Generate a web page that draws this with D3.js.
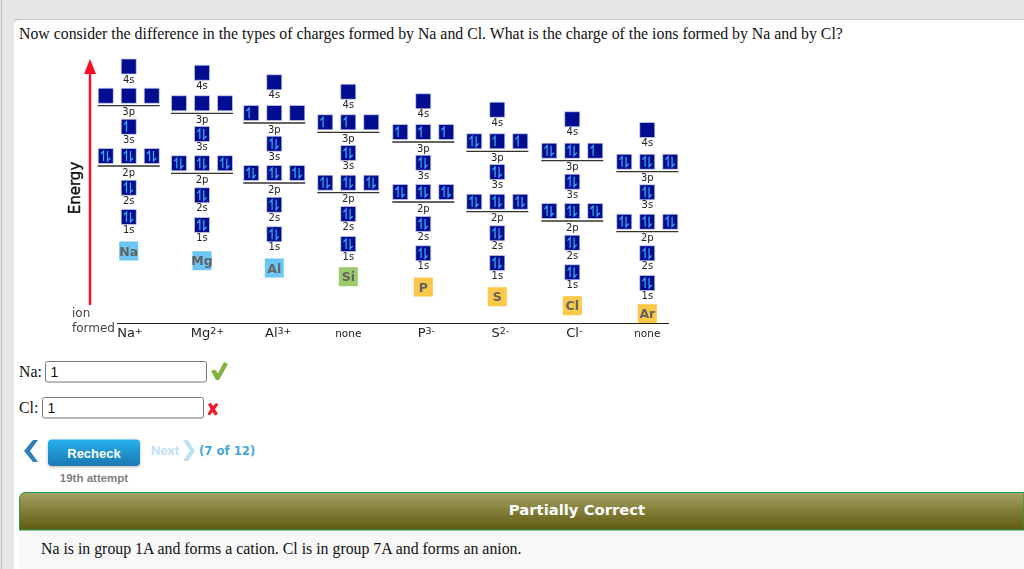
<!DOCTYPE html>
<html>
<head>
<meta charset="utf-8">
<script src="https://cdn.jsdelivr.net/npm/d3@7"></script>
<style>
  html, body { margin: 0; padding: 0; background: #fff; overflow: hidden; }
  svg { display: block; }
  .serif { font-family: "Liberation Serif", serif; fill: #111; }
  .sans { font-family: "Liberation Sans", sans-serif; }
  .wide { font-family: "DejaVu Sans", sans-serif; }
  .dia { font-family: "DejaVu Sans", sans-serif; fill: #222; }
</style>
</head>
<body>
<svg id="page" width="1024" height="569"></svg>
<script>
var elements = ["Na", "Mg", "Al", "Si", "P", "S", "Cl", "Ar"];
var ionBase = ["Na", "Mg", "Al", "none", "P", "S", "Cl", "none"];
var ionCharge = ["+", "2+", "3+", "", "3-", "2-", "-", ""];
var groupColors = ["#6cc6f6", "#6cc6f6", "#6cc6f6", "#9ccb6c", "#fcc848", "#fcc848", "#fcc848", "#fcc848"];

// energies, arbitrary units above the baseline
var energy1s = [108, 100, 90.7, 81, 71.7, 62, 52.7, 42];
var energy2s = [137.3, 129.7, 120.3, 111, 101, 91.7, 82.3, 71.7];
var energy2p = [169, 161.7, 152, 142.3, 133, 123.3, 114, 103.3];
var energy3s = [198.3, 191, 181.3, 172, 162.3, 153, 143.3, 132.7];
var energy3p = [229.3, 221.7, 212, 202.7, 193, 183.7, 174.3, 163.3];
var energy4s = [258.5, 252.3, 242.7, 233.3, 223.7, 215.3, 205.7, 195];
var energySymbol = [74, 64.3, 57, 48.3, 38, 28.3, 19.3, 11.3];

// electrons in each subshell
var electrons1s = [2, 2, 2, 2, 2, 2, 2, 2];
var electrons2s = [2, 2, 2, 2, 2, 2, 2, 2];
var electrons2p = [6, 6, 6, 6, 6, 6, 6, 6];
var electrons3s = [1, 2, 2, 2, 2, 2, 2, 2];
var electrons3p = [0, 0, 1, 2, 3, 4, 5, 6];
var electrons4s = [0, 0, 0, 0, 0, 0, 0, 0];

var subshells = [
    { name: "1s", energy: energy1s, electrons: electrons1s, boxes: 1 },
    { name: "2s", energy: energy2s, electrons: electrons2s, boxes: 1 },
    { name: "2p", energy: energy2p, electrons: electrons2p, boxes: 3 },
    { name: "3s", energy: energy3s, electrons: electrons3s, boxes: 1 },
    { name: "3p", energy: energy3p, electrons: electrons3p, boxes: 3 },
    { name: "4s", energy: energy4s, electrons: electrons4s, boxes: 1 }
];

var svg = d3.select("#page");
var defs = svg.append("defs");

function gradient(id, stops) {
    var g = defs.append("linearGradient").attr("id", id)
        .attr("x1", 0).attr("x2", 0).attr("y1", 0).attr("y2", 1);
    stops.forEach(function(c, i) {
        g.append("stop").attr("offset", i / (stops.length - 1)).attr("stop-color", c);
    });
}
gradient("banner", ["#a5a263", "#5e590e"]);
gradient("button", ["#27b0ee", "#1b78b0"]);
defs.append("filter").attr("id", "soft")
    .append("feGaussianBlur").attr("stdDeviation", 0.4);
defs.append("filter").attr("id", "shadow")
    .attr("x", "-10%").attr("y", "-20%").attr("width", "120%").attr("height", "150%")
    .append("feDropShadow").attr("dx", 0).attr("dy", 1).attr("stdDeviation", 1.5)
    .attr("flood-color", "#000").attr("flood-opacity", 0.3);

// page frame
svg.append("rect").attr("width", 1024).attr("height", 19).attr("fill", "#e5e6e7");
svg.append("rect").attr("width", 14).attr("height", 569).attr("fill", "#e5e6e7");
svg.append("rect").attr("x", 1).attr("width", 1).attr("height", 569).attr("fill", "#bdbdbd");
svg.append("rect").attr("x", 14).attr("y", 19).attr("width", 1010).attr("height", 1).attr("fill", "#c8c8c8");
svg.append("path").attr("d", "M14 26Q14 20 20 20L14 20Z").attr("fill", "#e5e6e7");

svg.append("text").attr("class", "serif").attr("x", 19).attr("y", 38.5)
    .attr("font-size", 15.83)
    .text("Now consider the difference in the types of charges formed by Na and Cl. What is the charge of the ions formed by Na and by Cl?");

// diagram
var x = d3.scaleOrdinal(elements, [128.7, 202, 274.3, 348.3, 423.3, 497.3, 572.3, 647.3]);
var ionShift = d3.scaleOrdinal(elements, [1.3, 5.5, 4, 0, 3, 3, 2, 0]);
var y = d3.scaleLinear().domain([0, 265]).range([325, 60]);
var orbitalStep = 23, boxSize = 15;

var dia = svg.append("g").attr("filter", "url(#soft)");

var columns = dia.selectAll("g.column").data(elements).enter().append("g")
    .attr("class", "column")
    .attr("transform", function(d) { return "translate(" + x(d) + ",0)"; });

columns.each(function(el, col) {
    var g = d3.select(this);
    subshells.forEach(function(sub) {
        var cy = y(sub.energy[col]), n = sub.electrons[col];
        d3.range(sub.boxes).forEach(function(i) {
            var cx = (i - (sub.boxes - 1) / 2) * orbitalStep;
            g.append("rect")
                .attr("x", cx - boxSize / 2).attr("y", cy - boxSize / 2)
                .attr("width", boxSize).attr("height", boxSize)
                .attr("fill", "#020f90").attr("stroke", "#c6cbee").attr("stroke-width", 0.7);
            if (n > i) {
                g.append("path").attr("fill", "none").attr("stroke", "#3eaef0").attr("stroke-width", 1.2)
                    .attr("d", "M" + (cx - 2.2) + " " + (cy + 5) + "V" + (cy - 5) + "L" + (cx - 4.8) + " " + (cy - 2));
            }
            if (n > i + sub.boxes) {
                g.append("path").attr("fill", "none").attr("stroke", "#3eaef0").attr("stroke-width", 1.2)
                    .attr("d", "M" + (cx + 1.8) + " " + (cy - 5) + "V" + (cy + 5) + "L" + (cx + 4.4) + " " + (cy + 2));
            }
        });
        if (sub.boxes === 3) {
            g.append("line")
                .attr("x1", -orbitalStep - boxSize / 2 - 0.5).attr("x2", orbitalStep + boxSize / 2 + 0.5)
                .attr("y1", cy + 10).attr("y2", cy + 10)
                .attr("stroke", "#333").attr("stroke-width", 1.3);
        }
        g.append("text").attr("class", "dia")
            .attr("text-anchor", "middle").attr("font-size", 10)
            .attr("y", cy + (sub.boxes === 3 ? 19.5 : 16))
            .text(sub.name);
    });

    var sy = y(energySymbol[col]);
    g.append("rect").attr("x", -9.5).attr("y", sy - 9.5)
        .attr("width", 19).attr("height", 19).attr("fill", groupColors[col]);
    g.append("text").attr("class", "dia")
        .attr("text-anchor", "middle").attr("y", sy + 4.5)
        .attr("font-size", 12.5).attr("font-weight", "bold")
        .style("fill", "#636363")
        .text(el);

    var ion = g.append("text").attr("class", "dia")
        .attr("text-anchor", "middle").attr("y", 337)
        .attr("font-size", ionBase[col] === "none" ? 10.5 : 13)
        .attr("dx", ionShift(el));
    ion.append("tspan").text(ionBase[col]);
    if (ionCharge[col]) {
        ion.append("tspan").attr("font-size", 9.5).attr("dy", -3).text(ionCharge[col]);
    }
});

dia.append("line").attr("x1", 117).attr("x2", 669).attr("y1", 323.5).attr("y2", 323.5)
    .attr("stroke", "#222").attr("stroke-width", 1.2);
dia.append("line").attr("x1", 90).attr("x2", 90).attr("y1", 305).attr("y2", 70)
    .attr("stroke", "#ff1020").attr("stroke-width", 2.4);
dia.append("path").attr("d", "M90 59L96 74H84Z").attr("fill", "#ff1020");
dia.append("text").attr("class", "dia").attr("x", 72).attr("y", 317).attr("font-size", 12).style("fill", "#444").text("ion");
dia.append("text").attr("class", "dia").attr("x", 72).attr("y", 332).attr("font-size", 12).style("fill", "#444").text("formed");
dia.append("text").attr("class", "dia")
    .attr("transform", "translate(79.5,188) rotate(-90)")
    .attr("text-anchor", "middle").attr("font-size", 15).style("fill", "#111")
    .attr("stroke", "#111").attr("stroke-width", 0.4)
    .text("Energy");

// answer fields
var fieldLabels = ["Na:", "Cl:"];
var fieldValues = ["1", "1"];
var fieldX = [45.5, 42.5], fieldY = [361.5, 397.5];
fieldLabels.forEach(function(label, i) {
    svg.append("text").attr("class", "serif").attr("x", 19).attr("y", fieldY[i] + 15.5)
        .attr("font-size", 15.83).text(label);
    svg.append("rect").attr("x", fieldX[i]).attr("y", fieldY[i])
        .attr("width", 161).attr("height", 20.5).attr("rx", 2)
        .attr("fill", "#fff").attr("stroke", "#777").attr("stroke-width", 1);
    svg.append("text").attr("class", "sans").attr("x", fieldX[i] + 5).attr("y", fieldY[i] + 15.5)
        .attr("font-size", 14).attr("fill", "#111").text(fieldValues[i]);
});
svg.append("path").attr("d", "M211 371L215 369.5L218 373.5L224 362L228 364L219 380H216Z").attr("fill", "#82b33c");
svg.append("path").attr("d", "M208 404L211 403L213 406L216 403L218.5 404.5L215 409L218 414L215 415.5L212.5 412L209.5 415.5L207.5 414L210.5 409Z").attr("fill", "#f01c2c");

// navigation
svg.append("path").attr("d", "M33 440L24 451L33 462H38L30 451L38 440Z").attr("fill", "#2e7fb5");
svg.append("rect").attr("x", 48).attr("y", 439.5).attr("width", 92).attr("height", 26.5).attr("rx", 4)
    .attr("fill", "url(#button)").attr("filter", "url(#shadow)");
svg.append("text").attr("class", "sans").attr("x", 94).attr("y", 458).attr("text-anchor", "middle")
    .attr("font-size", 13).attr("font-weight", "bold").attr("fill", "#fff").text("Recheck");
svg.append("text").attr("class", "sans").attr("x", 151).attr("y", 455).attr("font-size", 13)
    .attr("font-weight", "bold").attr("fill", "#bfe0f3").text("Next");
svg.append("path").attr("d", "M183 440H188L195 451L188 461H183L190 451Z").attr("fill", "#bfe0f3");
svg.append("text").attr("class", "wide").attr("x", 199).attr("y", 455).attr("font-size", 11.7)
    .attr("font-weight", "bold").attr("fill", "#45a5e0").text("(7 of 12)");
svg.append("text").attr("class", "sans").attr("x", 94).attr("y", 482).attr("text-anchor", "middle")
    .attr("font-size", 11.5).attr("font-weight", "bold").attr("fill", "#808080").text("19th attempt");

// feedback panel
svg.append("rect").attr("x", 19).attr("y", 530).attr("width", 1005).attr("height", 39).attr("fill", "#f8f8f8");
svg.append("path").attr("d", "M19.5 530V499Q19.5 492.5 26 492.5H1024V530Z")
    .attr("fill", "url(#banner)").attr("stroke", "#1f9a50").attr("stroke-width", 1);
svg.append("text").attr("class", "wide").attr("x", 577).attr("y", 515).attr("text-anchor", "middle")
    .attr("font-size", 14.8).attr("font-weight", "bold").attr("fill", "#fff").text("Partially Correct");
svg.append("text").attr("class", "serif").attr("x", 41).attr("y", 554).attr("font-size", 15.83)
    .text("Na is in group 1A and forms a cation. Cl is in group 7A and forms an anion.");
</script>
</body>
</html>
